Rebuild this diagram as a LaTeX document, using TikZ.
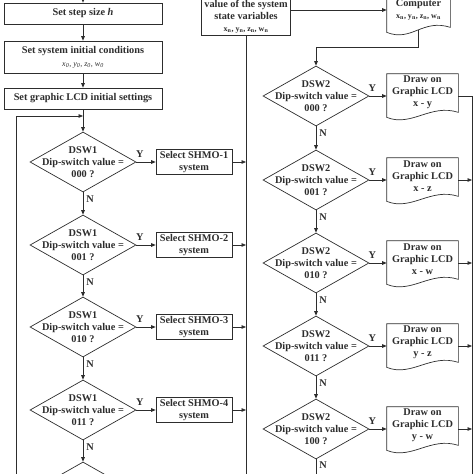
\documentclass[tikz,border=0pt]{standalone}
\usepackage{fontspec}
\setmainfont{Liberation Serif}
\usetikzlibrary{shapes.geometric, calc, positioning, arrows.meta}
\definecolor{FlowLine}{RGB}{45, 45, 45}

\begin{document}
\begin{tikzpicture}[x=1pt, y=-1pt, color=FlowLine, line width=0.7pt,
    font=\fontsize{10.3}{12}\selectfont\bfseries,
    arr/.style={-{Triangle[length=4.5pt, width=3.6pt]}},
    box/.style={draw, rectangle, align=center, inner sep=2pt},
    dsw/.style={draw, diamond, minimum width=106pt, minimum height=60pt, inner sep=0pt},
    dtxt/.style={align=center, inner sep=0pt},
    doc/.style={rectangle, align=center, inner sep=0pt, minimum width=71pt, minimum height=36pt}
]

    % --- Canvas ---
    \useasboundingbox (0,0) rectangle (474,474);
    \clip (0,0) rectangle (474,474);

    % --- Left column: setup ---
    \coordinate (top) at (83,-12);
    \node[box, minimum width=158pt, minimum height=21pt] (step) at (83,13.5) {Set step size \textit{h}};
    \node[box, minimum width=158pt, minimum height=32pt] (init) at (83,57)
        {Set system initial conditions\\[1pt]
         {\fontsize{8}{9}\selectfont\mdseries\itshape x\textsubscript{0}, y\textsubscript{0}, z\textsubscript{0}, w\textsubscript{0}}};
    \node[box, minimum width=158pt, minimum height=21pt] (lcd) at (83,98.5) {Set graphic LCD initial settings};

    \draw[arr] (top) -- (step);
    \draw[arr] (step) -- (init);
    \draw[arr] (init) -- (lcd);

    % --- DSW1 chain ---
    \foreach \i/\yy/\val in {1/162/000, 2/245/001, 3/327/010, 4/410/011} {
        \node[dsw] (p\i) at (83,\yy) {};
        \node[dtxt] (p\i t) at (p\i) {DSW1\\Dip-switch value =\\\val\ ?};
        \node[box, minimum width=76pt, minimum height=25pt] (s\i) at (194,\yy) {Select SHMO-\i\\system};
        \draw[arr] (p\i.east) -- node[pos=0.18, above=4pt, inner sep=0pt] {Y} (s\i.west);
    }
    \node[dsw] (p5) at (83,492) {};
    \foreach \i/\j in {1/2, 2/3, 3/4, 4/5} {
        \draw[arr] (p\i.south) -- node[pos=0.3, right=3pt, inner sep=0pt] {N} (p\j.north);
    }

    % Feedback loop into DSW1
    \coordinate (loop) at (16,480);
    \coordinate (join) at (83,116);
    \draw[arr] (lcd) -- (p1.north);
    \draw[arr] (loop) |- (join);

    % --- Middle: state variables (top edge cut off) ---
    \node[anchor=south, align=center, minimum width=88pt, inner xsep=2pt, inner ysep=1pt] (calc) at (246,35)
        {value of the system\\state variables\\
         {\fontsize{8}{9}\selectfont x\textsubscript{n}, y\textsubscript{n}, z\textsubscript{n}, w\textsubscript{n}}};
    \draw ([yshift=20pt]calc.north west) -- (calc.south west) -- (calc.south east) -- ([yshift=20pt]calc.north east);
    \coordinate (mbot) at (246,480);
    \draw (calc.south) -- (mbot);
    \foreach \i in {1,...,4} {
        \draw[arr] (s\i.east) -- (s\i.east -| mbot);
    }

    % --- Computer output ---
    \node[doc, minimum width=63pt, minimum height=30pt] (comp) at (418.5,10)
        {Computer\\{\fontsize{8}{9}\selectfont x\textsubscript{n}, y\textsubscript{n}, z\textsubscript{n}, w\textsubscript{n}}};
    \draw[arr] (calc.east |- comp.west) -- (comp.west);

    % --- DSW2 chain ---
    \foreach \i/\yy/\val/\pair in {1/96/000/x - y, 2/180/001/x - z, 3/263/010/x - w, 4/346/011/y - z, 5/429/100/y - w} {
        \node[dsw] (q\i) at (316,\yy) {};
        \node[dtxt] (q\i t) at (q\i) {DSW2\\Dip-switch value =\\\val\ ?};
        \node[doc] (g\i) at (422.5,\yy-4) {Draw on\\Graphic LCD\\\pair};
        \draw[arr] (q\i.east) -- node[pos=0.18, above=4pt, inner sep=0pt] {Y} (q\i.east -| g\i.west);
    }
    \foreach \i/\j in {1/2, 2/3, 3/4, 4/5} {
        \draw[arr] (q\i.south) -- node[pos=0.3, right=3pt, inner sep=0pt] {N} (q\j.north);
    }
    \coordinate (qbot) at (316,480);
    \draw (q5.south) -- node[pos=0.3, right=3pt, inner sep=0pt] {N} (qbot);
    \draw[arr] ([yshift=-5pt]comp.south) -- ++(0,17) -| (q1.north);

    % Document outlines (wavy bottom)
    \foreach \n in {comp, g1, g2, g3, g4, g5} {
        \draw (\n.north west) -- (\n.north east) -- ($(\n.south east)+(0,2)$)
            .. controls ($(\n.south east)+(-28,-7)$) and ($(\n.south west)+(25,17)$) .. ($(\n.south west)+(0,7)$) -- cycle;
    }

    % --- Right collector line ---
    \coordinate (rbot) at (472,480);
    \draw (q1.east -| g1.east) -| (rbot);
    \foreach \i in {2,...,5} {
        \draw[arr] (q\i.east -| g\i.east) -- (q\i.east -| rbot);
    }

\end{tikzpicture}
\end{document}
